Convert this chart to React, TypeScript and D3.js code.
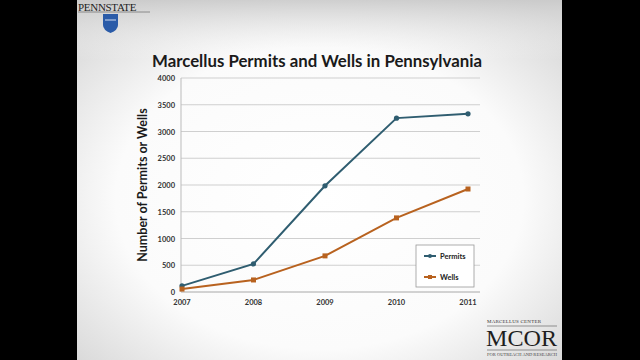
import React from 'react';
import * as d3 from 'd3';

const years = ['2007', '2008', '2009', '2010', '2011'];
const permits = [115, 525, 1985, 3250, 3330];
const wells = [55, 225, 675, 1385, 1925];
const yTicks = [0, 500, 1000, 1500, 2000, 2500, 3000, 3500, 4000];

const PERMIT_COLOR = '#2f5d70';
const WELL_COLOR = '#b8621f';

export default function App() {
  const x = d3.scalePoint().domain(years).range([182, 468]);
  const y = d3.scaleLinear().domain([0, 4000]).range([292, 78]);

  const line = d3
    .line<number>()
    .x((_, i) => x(years[i]) as number)
    .y(d => y(d));

  const font = 'Lato, "Open Sans", sans-serif';

  return (
    <div style={{ position: 'fixed', left: 0, top: 0 }}>
      <svg width={640} height={360} style={{ display: 'block' }}>
        <defs>
          <radialGradient id="bg" cx="0.5" cy="0.55" r="0.7">
            <stop offset="0%" stopColor="#ffffff" />
            <stop offset="60%" stopColor="#fbfbfb" />
            <stop offset="100%" stopColor="#d6d6d6" />
          </radialGradient>
          <linearGradient id="topfade" x1="0" y1="0" x2="0" y2="1">
            <stop offset="0%" stopColor="#c8c8c8" stopOpacity={0.8} />
            <stop offset="100%" stopColor="#ffffff" stopOpacity={0} />
          </linearGradient>
        </defs>
        <rect x={0} y={0} width={640} height={360} fill="#000" />
        <rect x={77} y={0} width={485} height={360} fill="url(#bg)" />
        <rect x={77} y={0} width={485} height={60} fill="url(#topfade)" />

        {/* Penn State logo */}
        <text x={78} y={11} fontFamily="'Liberation Serif', serif" fontSize={11} fill="#222" letterSpacing={-0.3}>
          PENNSTATE
        </text>
        <line x1={78} y1={12} x2={150} y2={12} stroke="#777" strokeWidth={0.8} />
        <path d="M103,14 L118,14 L118,25 Q118,30 110.5,33 Q103,30 103,25 Z" fill="#2a5ba8" />
        <line x1={105} y1={20} x2={116} y2={20} stroke="#cfdcf0" strokeWidth={1} />

        {/* title */}
        <text x={317} y={67} textAnchor="middle" fontFamily={font} fontWeight={700} fontSize={17.5} fill="#1a1a1a" textLength={330} lengthAdjust="spacingAndGlyphs">
          Marcellus Permits and Wells in Pennsylvania
        </text>

        {/* gridlines */}
        {yTicks.map(t => (
          <line key={t} x1={181} x2={480} y1={y(t)} y2={y(t)} stroke={t === 0 ? '#a8a8a8' : '#cfcfcf'} strokeWidth={1} />
        ))}
        <line x1={181} x2={181} y1={78} y2={292} stroke="#bbbbbb" strokeWidth={1} />

        {/* y tick labels */}
        {yTicks.map(t => (
          <text key={t} x={175} y={y(t) + 3} textAnchor="end" fontFamily={font} fontWeight={700} fontSize={7.5} fill="#333">
            {t}
          </text>
        ))}

        {/* x tick labels */}
        {years.map(yr => (
          <text key={yr} x={x(yr) as number} y={305} textAnchor="middle" fontFamily={font} fontWeight={700} fontSize={7.5} fill="#333">
            {yr}
          </text>
        ))}

        {/* y axis title */}
        <text
          transform="translate(147,185) rotate(-90)"
          textAnchor="middle"
          fontFamily={font}
          fontWeight={700}
          fontSize={12.5}
          fill="#1a1a1a"
        >
          Number of Permits or Wells
        </text>

        {/* lines */}
        <path d={line(permits) || ''} fill="none" stroke={PERMIT_COLOR} strokeWidth={2} />
        <path d={line(wells) || ''} fill="none" stroke={WELL_COLOR} strokeWidth={2} />
        {permits.map((v, i) => (
          <circle key={i} cx={x(years[i]) as number} cy={y(v)} r={2.6} fill={PERMIT_COLOR} />
        ))}
        {wells.map((v, i) => (
          <rect key={i} x={(x(years[i]) as number) - 2.5} y={y(v) - 2.5} width={5} height={5} fill={WELL_COLOR} />
        ))}

        {/* legend */}
        <rect x={416} y={245} width={58} height={42} fill="#ffffff" stroke="#9a9a9a" strokeWidth={0.8} />
        <line x1={424} x2={436} y1={256} y2={256} stroke={PERMIT_COLOR} strokeWidth={2} />
        <circle cx={430} cy={256} r={2} fill={PERMIT_COLOR} />
        <text x={440} y={258.5} fontFamily={font} fontWeight={700} fontSize={7.5} fill="#222">Permits</text>
        <line x1={424} x2={436} y1={277} y2={277} stroke={WELL_COLOR} strokeWidth={2} />
        <rect x={428} y={275} width={4} height={4} fill={WELL_COLOR} />
        <text x={440} y={279.5} fontFamily={font} fontWeight={700} fontSize={7.5} fill="#222">Wells</text>

        {/* MCOR logo */}
        <text x={487} y={323} fontFamily="'Liberation Serif', serif" fontSize={5} fill="#333" letterSpacing={0.2}>
          MARCELLUS CENTER
        </text>
        <line x1={487} x2={557} y1={326} y2={326} stroke="#555" strokeWidth={0.6} />
        <text x={486} y={346} fontFamily="'Liberation Serif', serif" fontSize={24} fill="#1e1e1e" textLength={71} lengthAdjust="spacingAndGlyphs">
          MCOR
        </text>
        <line x1={487} x2={557} y1={350} y2={350} stroke="#555" strokeWidth={0.6} />
        <text x={487} y={356} fontFamily="'Liberation Serif', serif" fontSize={4} fill="#444" textLength={70} lengthAdjust="spacingAndGlyphs">
          FOR OUTREACH AND RESEARCH
        </text>
      </svg>
    </div>
  );
}
